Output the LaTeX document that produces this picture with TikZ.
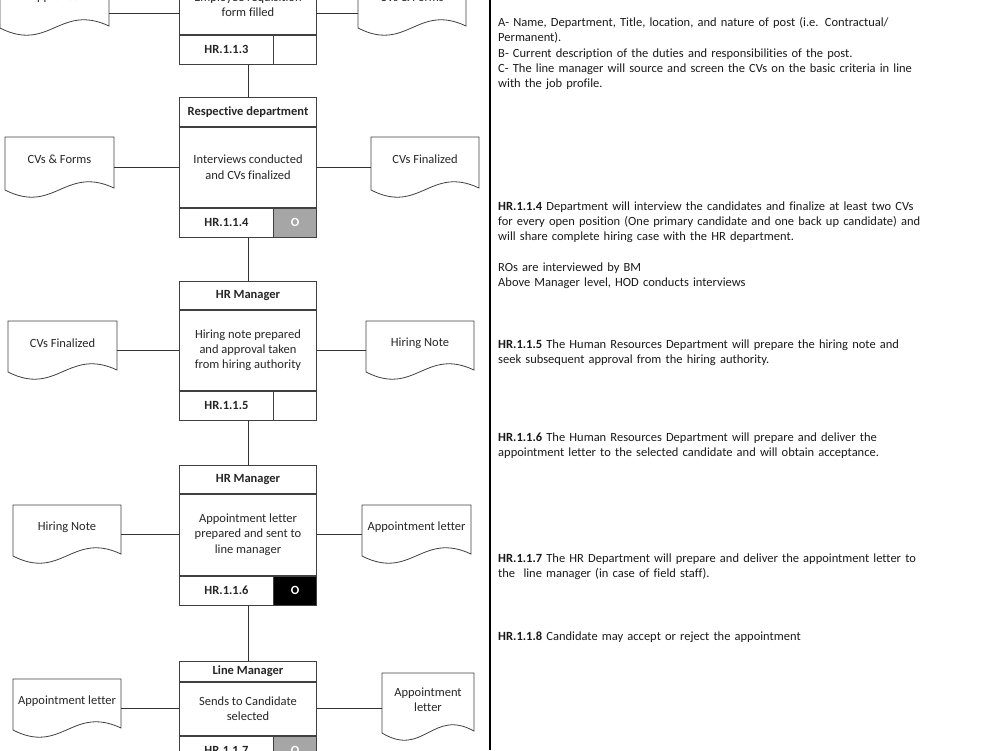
\documentclass[tikz,border=0pt]{standalone}
\usepackage{fontspec}
\setmainfont[Ligatures=NoCommon]{Carlito}
\usetikzlibrary{positioning}
\tikzset{stepbox/.style={draw=black!75, line width=0.8pt, fill=white, minimum width=137pt, inner sep=0pt, align=center, text=black!85},
    headbox/.style={stepbox, font=\bfseries},
    codebox/.style={draw=black!75, line width=0.8pt, fill=white, minimum height=29pt, inner sep=0pt, font=\bfseries, text=black!85},
    doctext/.style={inner sep=0pt, align=center, text=black!85},
    note/.style={inner sep=0pt, text width=480pt, align=left, anchor=base west, text=black!90},
    conn/.style={draw=black!80, line width=0.8pt},
}
\newcommand{\docshape}[4]{%
    \draw[draw=black!75, line width=0.8pt, fill=white] (#1,#2) -- (#1+#3,#2) -- (#1+#3,#2+#4-2)
        .. controls (#1+0.55*#3,#2+#4-25) and (#1+0.45*#3,#2+#4+25) .. (#1,#2+#4) -- cycle;}

\begin{document}
\fontsize{12.5pt}{15.3pt}\selectfont
\begin{tikzpicture}[x=1pt, y=-1pt]
		\useasboundingbox (0,0) rectangle (1000,750);
		\clip (0,0) rectangle (1000,750);
		% steps
		\node[stepbox, minimum height=60pt, anchor=north] (b1m) at (248,-26) {Employee requisition\\form filled};
		\node[codebox, minimum width=94pt, anchor=north west] (b1c) at (b1m.south west) {HR.1.1.3};
		\node[codebox, minimum width=43pt, anchor=north east] (b1o) at (b1m.south east) {};

		\node[headbox, minimum height=29pt, anchor=north] (b2h) at (248,97) {Respective department};
		\node[stepbox, minimum height=80pt, below=0pt of b2h] (b2m) {Interviews conducted\\and CVs finalized};
		\node[codebox, minimum width=94pt, anchor=north west] (b2c) at (b2m.south west) {HR.1.1.4};
		\node[codebox, minimum width=43pt, anchor=north east, fill=black!35, text=white!90] (b2o) at (b2m.south east) {O};

		\node[headbox, minimum height=28pt, anchor=north] (b3h) at (248,281) {HR Manager};
		\node[stepbox, minimum height=80pt, below=0pt of b3h] (b3m) {Hiring note prepared\\and approval taken\\from hiring authority};
		\node[codebox, minimum width=94pt, anchor=north west] (b3c) at (b3m.south west) {HR.1.1.5};
		\node[codebox, minimum width=43pt, anchor=north east] (b3o) at (b3m.south east) {};

		\node[headbox, minimum height=28pt, anchor=north] (b4h) at (248,465) {HR Manager};
		\node[stepbox, minimum height=81pt, below=0pt of b4h] (b4m) {Appointment letter\\prepared and sent to\\line manager};
		\node[codebox, minimum width=94pt, anchor=north west] (b4c) at (b4m.south west) {HR.1.1.6};
		\node[codebox, minimum width=43pt, anchor=north east, fill=black, text=white] (b4o) at (b4m.south east) {O};

		\node[headbox, minimum height=20pt, anchor=north] (b5h) at (248,661) {Line Manager};
		\node[stepbox, minimum height=53pt, below=0pt of b5h] (b5m) {Sends to Candidate\\selected};
		\node[codebox, minimum width=94pt, anchor=north west] (b5c) at (b5m.south west) {HR.1.1.7};
		\node[codebox, minimum width=43pt, anchor=north east, fill=black!35, text=white!90] (b5o) at (b5m.south east) {O};

		% documents
		\docshape{0}{-25}{109}{53}
		\node[doctext, minimum width=109pt] (d1l) at (54.5,-3) {Approved};
		\docshape{358}{-25}{108}{53}
		\node[doctext, minimum width=108pt] (d1r) at (412,-3) {CVs \& Forms};
		\docshape{5}{137}{109}{53}
		\node[doctext, minimum width=109pt] (d2l) at (59.5,159) {CVs \& Forms};
		\docshape{371}{137}{108}{53}
		\node[doctext, minimum width=108pt] (d2r) at (425,159) {CVs Finalized};
		\docshape{8}{321}{109}{51}
		\node[doctext, minimum width=109pt] (d3l) at (62.5,343) {CVs Finalized};
		\docshape{366}{321}{108}{51}
		\node[doctext, minimum width=108pt] (d3r) at (420,343) {Hiring Note};
		\docshape{13}{505}{108}{51}
		\node[doctext, minimum width=108pt] (d4l) at (67,527) {Hiring Note};
		\docshape{362}{505}{109}{51}
		\node[doctext, minimum width=109pt] (d4r) at (416.5,527) {Appointment letter};
		\docshape{13}{679}{108}{51}
		\node[doctext, minimum width=108pt] (d5l) at (67,701) {Appointment letter};
		\docshape{382}{673}{92}{60}
		\node[doctext, minimum width=92pt] (d5r) at (428,700) {Appointment\\letter};

		% connectors
		\draw[conn] ([yshift=-9pt]b1m.west) -- ([yshift=-9pt]b1m.west -| d1l.east);
		\draw[conn] ([yshift=-9pt]b1m.east) -- ([yshift=-9pt]b1m.east -| d1r.west);
		\draw[conn] (b2m.west) -- (b2m.west -| d2l.east);
		\draw[conn] (b2m.east) -- (b2m.east -| d2r.west);
		\draw[conn] (b3m.west) -- (b3m.west -| d3l.east);
		\draw[conn] (b3m.east) -- (b3m.east -| d3r.west);
		\draw[conn] (b4m.west) -- (b4m.west -| d4l.east);
		\draw[conn] (b4m.east) -- (b4m.east -| d4r.west);
		\draw[conn] (b5m.west) -- (b5m.west -| d5l.east);
		\draw[conn] (b5m.east) -- (b5m.east -| d5r.west);
		\draw[conn] (b1c.south -| b2h.north) -- (b2h.north);
		\draw[conn] (b2c.south -| b3h.north) -- (b3h.north);
		\draw[conn] (b3c.south -| b4h.north) -- (b4h.north);
		\draw[conn] (b4c.south -| b5h.north) -- (b5h.north);

		% divider and notes
		\draw[line width=2.2pt] (490,0) -- (490,750);
		\node[note] (n1) at (498,26.5) {A- Name, Department, Title, location, and nature of post (i.e. Contractual/\\Permanent).\\B- Current description of the duties and responsibilities of the post.\\C- The line manager will source and screen the CVs on the basic criteria in line\\with the job profile.};
		\node[note] (n2) at (498,210) {\textbf{HR.1.1.4} Department will interview the candidates and finalize at least two CVs\\for every open position (One primary candidate and one back up candidate) and\\will share complete hiring case with the HR department.};
		\node[note] (n3) at (498,271) {ROs are interviewed by BM\\Above Manager level, HOD conducts interviews};
		\node[note] (n4) at (498,348) {\textbf{HR.1.1.5} The Human Resources Department will prepare the hiring note and\\seek subsequent approval from the hiring authority.};
		\node[note] (n5) at (498,441.5) {\textbf{HR.1.1.6} The Human Resources Department will prepare and deliver the\\appointment letter to the selected candidate and will obtain acceptance.};
		\node[note] (n6) at (498,562.5) {\textbf{HR.1.1.7} The HR Department will prepare and deliver the appointment letter to\\the\ \ line manager (in case of field staff).};
		\node[note] (n7) at (498,640) {\textbf{HR.1.1.8} Candidate may accept or reject the appointment};
\end{tikzpicture}
\end{document}
